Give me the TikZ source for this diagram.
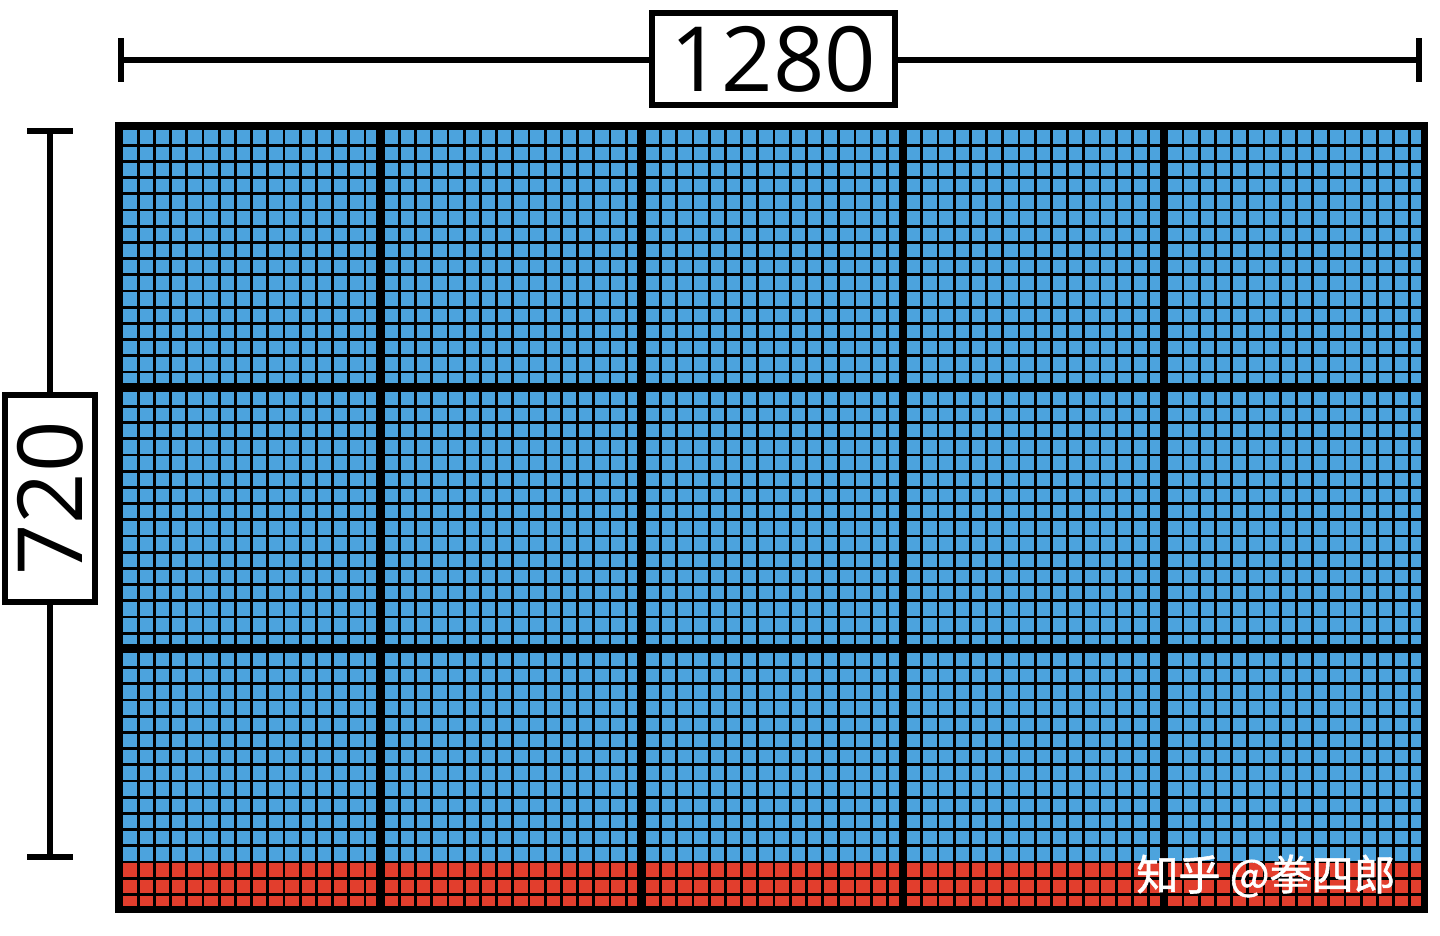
\documentclass[tikz,border=0pt]{standalone}
\usepackage{fontspec}
\usetikzlibrary{calc}
\newfontfamily\dimfont{Open Sans}
\newfontfamily\cjk[BoldFont={Noto Sans CJK SC}, BoldFeatures={FakeBold=1.3}]{Noto Sans CJK SC}
\definecolor{cellblue}{RGB}{76,163,221}
\definecolor{cellred}{RGB}{226,62,45}
\tikzset{
  thingrid/.style={black, line width=2.8pt},
  blockline/.style={black, line width=7pt},
  frameline/.style={black, line width=7pt},
  dimline/.style={black, line width=5.5pt},
  dimbox/.style={draw=black, fill=white, line width=6pt, inner sep=0pt, font=\dimfont\fontsize{90}{90}\selectfont},
  wmark/.style={text=white, font=\cjk\bfseries\fontsize{42}{42}\selectfont, inner sep=0pt}
}
\begin{document}
\begin{tikzpicture}[x=1pt,y=-1pt]
\useasboundingbox[fill=white] (0,0) rectangle (1440,935);
% grid area
\fill[cellblue] (118.5,125.5) rectangle (1424.5,909.1);
\fill[cellred] (118.5,862) rectangle (1424.5,909.1);
\foreach \i in {0,...,4}{
  \foreach \k in {0,...,15}{
    \draw[thingrid] ({118.5+\i*261.2+3.5+\k*16.2},125.5) -- ++(0,783.6);
  }
}
\foreach \j in {0,1,2}{
  \foreach \k in {0,...,15}{
    \draw[thingrid] (118.5,{125.5+\j*261.2+3.5+\k*16.2}) -- ++(1306,0);
  }
}
\foreach \i in {1,...,4}{
  \draw[blockline] ({118.5+\i*261.2},125.5) -- ++(0,783.6);
}
\foreach \j in {1,2}{
  \draw[blockline] (118.5,{125.5+\j*261.2}) -- ++(1306,0);
}
\draw[frameline] (118.5,125.5) rectangle (1424.5,909.1);
% horizontal dimension
\coordinate (hl) at (121,60);
\coordinate (hr) at (1419,60);
\draw[dimline] (hl) -- (hr);
\draw[dimline] ($(hl)+(0,-22)$) -- ($(hl)+(0,22)$);
\draw[dimline] ($(hr)+(0,-22)$) -- ($(hr)+(0,22)$);
\node[dimbox, minimum width=243pt, minimum height=92pt] (w) at (773,59) {1280};
% vertical dimension
\coordinate (vt) at (50,131);
\coordinate (vb) at (50,857);
\draw[dimline] (vt) -- (vb);
\draw[dimline] ($(vt)+(-23,0)$) -- ($(vt)+(23,0)$);
\draw[dimline] ($(vb)+(-23,0)$) -- ($(vb)+(23,0)$);
\node[dimbox, rotate=90, minimum width=207pt, minimum height=90pt] (h) at (50,498.5) {720};
% watermark
\node[wmark] (wm) at (1266,876) {知乎 @拳四郎};
\end{tikzpicture}
\end{document}
